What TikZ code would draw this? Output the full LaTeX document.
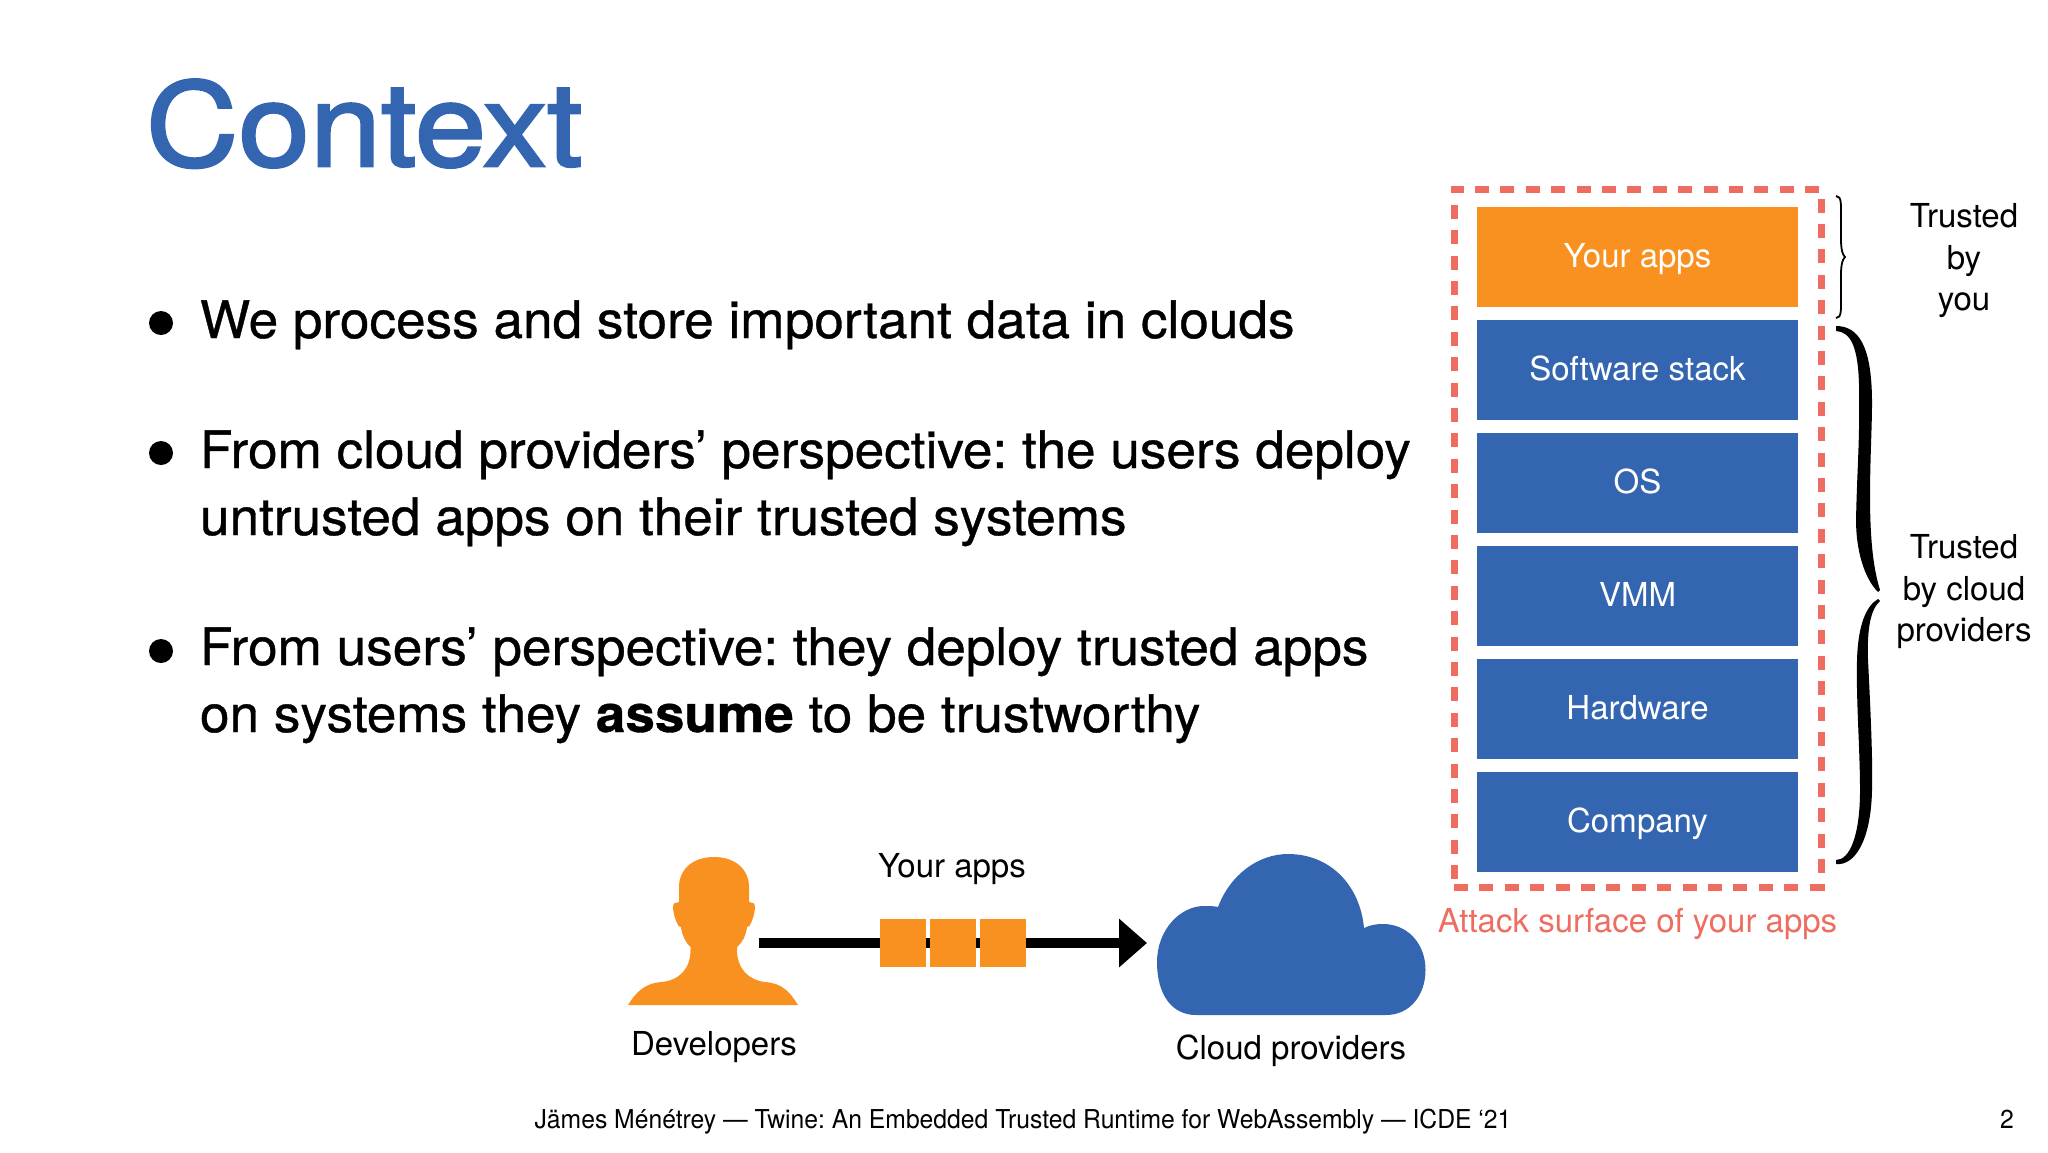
\documentclass[tikz,border=0pt]{standalone}
\usepackage{fontspec}
\setmainfont{TeX Gyre Heros}
\usepackage{tikz}
\usetikzlibrary{arrows.meta, positioning, calc}
\definecolor{slideblue}{HTML}{3465B0}
\definecolor{slideorange}{HTML}{F99120}
\definecolor{slidered}{HTML}{EE6D60}
\newcommand{\bodysize}{\fontsize{25.8}{32}\selectfont\addfontfeature{FakeStretch=1.03, FakeBold=0.7}}
\newcommand{\labelsize}{\fontsize{16.5}{20}\selectfont}
\newcommand{\footsize}{\fontsize{13}{16}\selectfont\addfontfeature{FakeStretch=0.95}}
\frenchspacing

\begin{document}
\begin{tikzpicture}[
	x=0.5pt, y=-0.5pt,
	node distance=6.5pt,
	every node/.style={inner sep=0pt, outer sep=0pt},
	body/.style={anchor=base west, font=\bodysize},
	bullet/.style={circle, fill=black, minimum size=12pt},
	layer/.style={rectangle, fill=slideblue, text=white, minimum width=160.5pt, minimum height=50pt, text height=10pt, text depth=0pt, font=\labelsize},
	label/.style={anchor=base, font=\labelsize},
	packet/.style={rectangle, fill=slideorange, minimum width=23pt, minimum height=24pt},
	arrow/.style={-{Triangle[length=14pt, width=23.5pt]}, line width=5pt}
]
\useasboundingbox (0,0) rectangle (2048,1152);

% Title
\node[anchor=base west, font=\fontsize{58}{58}\selectfont\addfontfeature{FakeStretch=1.105, FakeBold=2.2}, text=slideblue] (title) at (146,166) {Context};

% Bullets
\node[bullet] (bulletA) at (161,323) {};
\node[body] (lineA) at (200,338) {We process and store important data in clouds};
\node[bullet] (bulletB) at (161,453) {};
\node[body] (lineB) at (200,468) {From cloud providers’ perspective: the users deploy};
\node[body] (lineC) at (200,535) {untrusted apps on their trusted systems};
\node[bullet] (bulletC) at (161,651) {};
\node[body] (lineD) at (200,665) {From users’ perspective: they deploy trusted apps};
\node[body] (lineE) at (200,732) {on systems they \textbf{assume} to be trustworthy};

% Stack of layers
\node[layer, fill=slideorange] (apps) at (1637.5,257) {Your apps};
\node[layer, below=of apps] (stack) {Software stack};
\node[layer, below=of stack] (os) {OS};
\node[layer, below=of os] (vmm) {VMM};
\node[layer, below=of vmm] (hardware) {Hardware};
\node[layer, below=of hardware] (company) {Company};

% Attack surface
\node[rectangle, draw=slidered, line width=3.5pt, dash pattern=on 7pt off 5.7pt, minimum width=183.5pt, minimum height=349pt] (surface) at (1637.5,538) {};
\node[label, text=slidered, anchor=base] (surfacetext) at (1637.5,932) {Attack surface of your apps};

% Braces
\draw[line width=0.9pt] (1836,196) .. controls (1842,196) and (1841,205) .. (1841,222)
	.. controls (1841,240) and (1840,252) .. (1845,257)
	.. controls (1840,262) and (1841,274) .. (1841,292)
	.. controls (1841,309) and (1842,318) .. (1836,318);
\fill (1836,326) .. controls (1858,326) and (1872,345) .. (1872,403)
	.. controls (1872,450) and (1864,540) .. (1880,590)
	-- (1878,592) .. controls (1864,578) and (1856,550) .. (1856,520)
	.. controls (1857,470) and (1860,440) .. (1859,385)
	.. controls (1858,345) and (1850,332) .. (1836,331) -- cycle;
\fill (1880,601) .. controls (1870,610) and (1867,630) .. (1868,660)
	.. controls (1870,700) and (1873,760) .. (1872,790)
	.. controls (1871,840) and (1855,866) .. (1836,864)
	-- (1836,860) .. controls (1850,860) and (1860,835) .. (1860,790)
	.. controls (1860,750) and (1856,700) .. (1857,660)
	.. controls (1858,625) and (1866,606) .. (1878,599) -- cycle;

% Brace captions
\node[label] (trustA) at (1964,227) {Trusted};
\node[label] (trustB) at (1964,269) {by};
\node[label] (trustC) at (1964,310) {you};
\node[label] (cloudA) at (1964,558) {Trusted};
\node[label] (cloudB) at (1964,600) {by cloud};
\node[label] (cloudC) at (1964,641) {providers};

% Developers
\fill[slideorange] (628,1005) .. controls (636,992) and (645,983) .. (662,982)
	.. controls (680,980) and (690.5,968) .. (690.5,950)
	-- (690.5,947) .. controls (685,942) and (682,935) .. (681,927)
	-- (678.6,926) .. controls (675,920) and (673,912) .. (673,907)
	.. controls (673,903) and (676,902) .. (679,902)
	-- (679,887) .. controls (679,870) and (692,857) .. (714,857)
	.. controls (736,857) and (749,870) .. (749,887)
	-- (749,902) .. controls (752,902) and (755,903) .. (755,907)
	.. controls (755,912) and (753,920) .. (749.4,926)
	-- (747,927) .. controls (746,935) and (743,942) .. (737,947)
	-- (737,950) .. controls (737,968) and (748,980) .. (765,982)
	.. controls (782,983) and (790,992) .. (798,1005) -- cycle;

% Cloud providers
\fill[slideblue] (1196,1015) .. controls (1172,1015) and (1157,995) .. (1157,962)
	.. controls (1157,930) and (1180,906) .. (1204,906)
	.. controls (1209,906) and (1214,906) .. (1218,907)
	.. controls (1230,875) and (1258,854) .. (1288,854)
	.. controls (1330,854) and (1360,885) .. (1364,928)
	.. controls (1370,925) and (1376,924) .. (1383,924)
	.. controls (1407,924) and (1425.5,943) .. (1425.5,970)
	.. controls (1425.5,995) and (1410,1015) .. (1386,1015) -- cycle;

% Transfer of the apps
\coordinate (devedge) at (759,943);
\coordinate (cloudedge) at (1147,943);
\draw[arrow] (devedge) -- (cloudedge);
\node[packet] (packetA) at (903,943) {};
\node[packet, right=2pt of packetA] (packetB) {};
\node[packet, right=2pt of packetB] (packetC) {};
\node[label] (appstext) at (952,877) {Your apps};
\node[label] (developers) at (714,1055) {Developers};
\node[label] (cloudtext) at (1291,1059) {Cloud providers};

% Footer
\node[anchor=base, font=\footsize] (footer) at (1023,1128) {Jämes Ménétrey — Twine: An Embedded Trusted Runtime for WebAssembly — ICDE ‘21};
\node[anchor=base, font=\footsize] (page) at (2007,1128) {2};

\end{tikzpicture}
\end{document}
